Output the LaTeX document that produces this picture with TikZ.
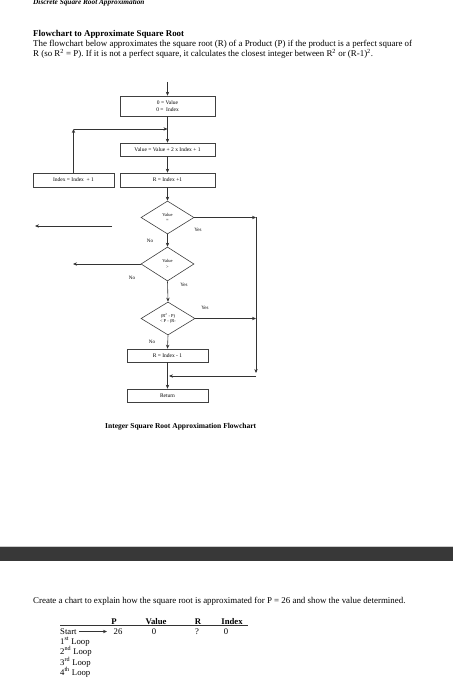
\documentclass[tikz,border=0pt]{standalone}
\usepackage{fontspec}
\setmainfont{Liberation Serif}
\usetikzlibrary{shapes.geometric,arrows.meta}
\begin{document}
\begin{tikzpicture}[x=1pt,y=-1pt,
  box/.style={draw=black!75,line width=0.6pt,inner sep=0pt,font=\fontsize{5.5}{6.5}\selectfont,align=center},
  dia/.style={draw=black!75,line width=0.6pt,diamond,inner sep=0pt,minimum width=53pt,minimum height=33pt,font=\fontsize{4.5}{5.5}\selectfont,align=center},
  conn/.style={draw=black!80,line width=0.6pt,-{Stealth[length=4pt,width=3.4pt]}},
  plain/.style={draw=black!80,line width=0.6pt},
  lbl/.style={font=\fontsize{5}{6}\selectfont,inner sep=0pt},
  body/.style={font=\fontsize{8.9}{10}\selectfont,inner sep=0pt,anchor=base west},
  bodyc/.style={font=\fontsize{8.7}{10}\selectfont,inner sep=0pt,anchor=base}
]
\useasboundingbox[fill=white] (0,0) rectangle (453,700);

% header text
\node[body,font=\fontsize{7.3}{8}\selectfont\bfseries\itshape] (hdr) at (33,5) {Discrete Square Root Approximation};
\node[body,font=\fontsize{8.9}{10}\selectfont\bfseries] (title) at (33,37) {Flowchart to Approximate Square Root};
\node[body] (p1) at (33,47) {The flowchart below approximates the square root (R) of a Product (P) if the product is a perfect square of};
\node[body] (p2) at (33,57) {R (so R\textsuperscript{2} = P). If it is not a perfect square, it calculates the closest integer between R\textsuperscript{2} or (R-1)\textsuperscript{2}.};

% flowchart
\coordinate (top) at (167.5,82);
\node[box,minimum width=95pt,minimum height=20pt] (b1) at (167.5,106) {0 = Value\\0 =\ \ Index};
\node[box,minimum width=95pt,minimum height=13pt] (b2) at (167.5,149.5) {Value = Value + 2 x Index + 1};
\node[box,minimum width=81pt,minimum height=14pt] (b3) at (73.5,180) {Index = Index\ \ + 1};
\node[box,minimum width=95pt,minimum height=14pt] (b4) at (167.5,180) {R = Index +1};
\node[dia] (d1) at (167.5,217.5) {Value\\=};
\node[dia,minimum height=34pt] (d2) at (167.5,264) {Value\\>};
\node[dia,minimum width=54pt] (d3) at (168,318.5) {(R\textsuperscript{2} - P)\\< P - (R-};
\node[box,minimum width=81pt,minimum height=13pt] (b5) at (167.5,355.5) {R = Index - 1};
\node[box,minimum width=81pt,minimum height=13pt] (b6) at (167.5,395.5) {Return};

\coordinate (lc) at (73.5,129);
\coordinate (lj) at (167.5,129);
\coordinate (f1a) at (112,226);
\coordinate (f1b) at (35,226);
\coordinate (f2) at (73,264);
\coordinate (m1) at (256,217.5);
\coordinate (m3) at (256,318.5);
\coordinate (m2) at (256,373);
\coordinate (m4) at (256,376);
\coordinate (m5) at (169,376);

\draw[conn] (top) -- (b1.north);
\draw[conn] (b1.south) -- (b2.north);
\draw[conn] (b3.north) -- (lc);
\draw[conn] (lc) -- (lj);
\draw[conn] (b2.south) -- (b4.north);
\draw[conn] (b4.south) -- (d1.north);
\draw[conn] (d1.south) -- (d2.north);
\draw[conn] (d2.south) -- (d3.north);
\draw[conn] (d3.south) -- (b5.north);
\draw[conn] (b5.south) -- (b6.north);
\draw[conn] (d1.east) -- (m1);
\draw[conn] (m1) -- (m2);
\draw[conn] (m4) -- (m5);
\draw[conn] (d3.east) -- (m3);
\draw[conn] (d2.west) -- (f2);
\draw[conn] (f1a) -- (f1b);

\node[lbl] (y1) at (198,230) {Yes};
\node[lbl] (n1) at (150,241) {No};
\node[lbl] (n2) at (132,278) {No};
\node[lbl] (y2) at (184,285) {Yes};
\node[lbl] (y3) at (205,308) {Yes};
\node[lbl] (n3) at (152,342) {No};

\node[body,font=\fontsize{7.5}{9}\selectfont\bfseries] (cap) at (105,428) {Integer Square Root Approximation Flowchart};

% dark band
\fill[black!20] (0,545.5) rectangle (453,547);
\fill[black!78] (0,547) rectangle (453,561);

% lower part
\node[body] (q) at (33,603) {Create a chart to explain how the square root is approximated for P = 26 and show the value determined.};

\draw[plain] (60,625.5) -- (248,625.5);
\node[bodyc,font=\fontsize{8.7}{10}\selectfont\bfseries] (hP) at (114,624) {P};
\node[bodyc,font=\fontsize{8.7}{10}\selectfont\bfseries] (hV) at (156,624) {Value};
\node[bodyc,font=\fontsize{8.7}{10}\selectfont\bfseries] (hR) at (198,624) {R};
\node[bodyc,font=\fontsize{8.7}{10}\selectfont\bfseries] (hI) at (232,624) {Index};

\node[body,font=\fontsize{8.7}{10}\selectfont] (st) at (60,634) {Start};
\node[bodyc] (v26) at (118,634) {26};
\node[bodyc] (v0) at (154,634) {0};
\node[bodyc] (vq) at (197,634) {?};
\node[bodyc] (vi) at (226,634) {0};
\coordinate (sa) at (79,631.5);
\coordinate (sb) at (107,631.5);
\draw[conn] (sa) -- (sb);

\node[body,font=\fontsize{8.7}{10}\selectfont] (l1) at (60,644) {1\textsuperscript{st}\ Loop};
\node[body,font=\fontsize{8.7}{10}\selectfont] (l2) at (60,654.5) {2\textsuperscript{nd}\ Loop};
\node[body,font=\fontsize{8.7}{10}\selectfont] (l3) at (60,665) {3\textsuperscript{rd}\ Loop};
\node[body,font=\fontsize{8.7}{10}\selectfont] (l4) at (60,675) {4\textsuperscript{th}\ Loop};
\end{tikzpicture}
\end{document}
